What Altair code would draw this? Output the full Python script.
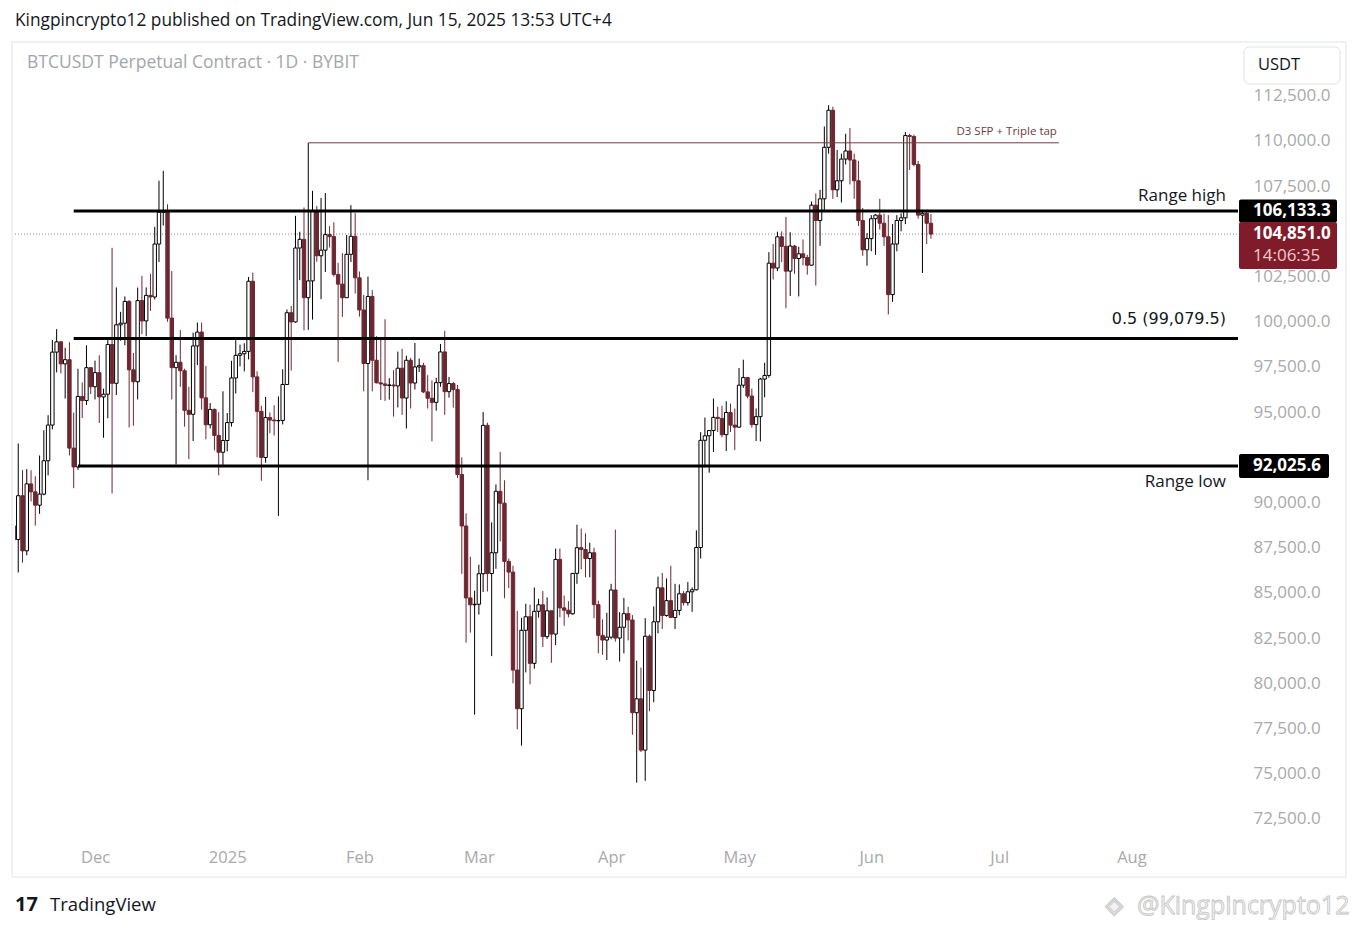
import altair as alt
import pandas as pd

# ---------------- data (BTCUSDT perpetual, daily) ----------------
START = "2024-11-12"

nov_open = [88700, 87950, 90375, 87325, 91030, 90590, 89850, 90465, 92310, 94285,
            98320, 98890, 97670, 97900, 93010, 91965, 95865, 95640, 97460]
nov_high = [89950, 93265, 91790, 91850, 91780, 91450, 92600, 94000, 94830, 98990,
            99590, 98900, 98560, 98870, 94970, 97400, 96650, 98700, 97460]
nov_low = [85200, 86130, 86670, 87075, 90055, 88720, 89375, 90400, 91500, 94045,
           97200, 97140, 95750, 92600, 90790, 91810, 94670, 95400, 96000]
nov_close = [87950, 90375, 87325, 91030, 90590, 89850, 90465, 92310, 94285, 98320,
             98890, 97670, 97900, 93010, 91965, 95865, 95640, 97460, 96405]

dec_open = [96405, 97185, 95840, 95990, 98740, 96595, 99830, 99920, 101125, 97340,
            96680, 101170, 100045, 101460, 101370, 104300, 106060, 106135, 100200, 97460,
            97760, 97290, 95100, 94880, 98660, 99430, 95790, 94300, 95150, 93710, 92780]
dec_high = [97850, 98150, 96300, 99000, 104090, 101900, 100550, 101400, 101200, 98270,
            101890, 102540, 101900, 102650, 105250, 107800, 108350, 106500, 102800, 98150,
            99540, 97400, 96400, 99400, 99960, 99960, 97550, 95500, 95200, 95000, 96150]
dec_low = [95700, 94400, 93580, 94660, 90500, 95950, 98950, 98700, 94150, 94250,
           95700, 99310, 99200, 100600, 101230, 103300, 105320, 100000, 95700, 92100,
           96400, 94200, 92400, 93400, 97600, 95140, 93500, 94100, 92880, 91500, 92000]
dec_close = [97185, 95840, 95990, 98740, 96595, 99830, 99920, 101125, 97340, 96680,
             101170, 100045, 101460, 101370, 104300, 106060, 106135, 100200, 97460, 97760,
             97290, 95100, 94880, 98660, 99430, 95790, 94300, 95150, 93710, 92780, 93430]

jan_open = [93430, 94420, 96890, 98140, 98230, 98360, 102240, 96950, 95040, 92490,
            94700, 94560, 94520, 94540, 96530, 100500, 99990, 104080, 104560, 101330,
            102260, 106140, 103650, 103960, 104820, 104710, 102620, 102080, 101330, 103730, 104730]
jan_high = [94950, 97840, 98980, 98730, 98810, 102480, 102720, 97260, 95350, 95840,
            94980, 95380, 95870, 97370, 100680, 100870, 105860, 104980, 106320, 109900,
            107240, 106400, 106850, 107120, 105290, 105500, 103260, 103800, 104800, 106450, 106010]
jan_low = [92830, 94200, 96030, 97530, 97250, 97920, 96100, 92500, 91200, 92200,
           93830, 93700, 89260, 94320, 96500, 97300, 99950, 102300, 99520, 99550,
           100120, 103320, 101250, 102750, 104110, 102500, 97780, 100270, 101330, 103300, 101560]
jan_close = [94420, 96890, 98140, 98230, 98360, 102240, 96950, 95040, 92490, 94700,
             94560, 94520, 94540, 96530, 100500, 99990, 104080, 104560, 101330, 102260,
             106140, 103650, 103960, 104820, 104710, 102620, 102080, 101330, 103730, 104730, 102430]

feb_open = [102430, 100650, 97690, 101400, 97870, 96620, 96560, 96480, 96500, 96450,
            97430, 95780, 97870, 96610, 97500, 97570, 96120, 95770, 95540, 96630,
            98330, 96130, 96580, 96250, 91550, 88700, 84720, 84340]
feb_high = [102780, 101480, 102500, 101750, 99200, 99100, 100140, 96880, 97320, 98350,
            98500, 98120, 98000, 98830, 97970, 97730, 97050, 96750, 96900, 98770,
            99500, 96950, 96670, 96500, 92500, 89400, 87000, 85120]
feb_low = [100280, 96150, 91230, 96150, 96590, 95670, 95620, 95690, 94750, 95260,
           94850, 94090, 95200, 96250, 97220, 96050, 95200, 93390, 95080, 96400,
           94850, 95800, 95250, 91350, 86050, 82250, 82800, 78260]
feb_close = [100650, 97690, 101400, 97870, 96620, 96560, 96480, 96500, 96450, 97430,
             95780, 97870, 96610, 97500, 97570, 96120, 95770, 95540, 96630, 98330,
             96130, 96580, 96250, 91550, 88700, 84720, 84340, 84370]

mar_open = [84370, 86060, 94270, 86070, 87220, 90620, 89960, 86740, 86150, 80730,
            78590, 82930, 83680, 81100, 83980, 84340, 82580, 84010, 82720, 86850,
            84170, 84040, 83840, 86080, 87500, 87400, 86900, 87220, 84350, 82650, 82390]
mar_high = [86560, 95000, 94420, 88900, 91000, 92800, 91230, 86900, 86500, 84000,
            83620, 84400, 84350, 85300, 84670, 85100, 84750, 84010, 87450, 87450,
            84850, 84540, 86100, 88770, 88560, 88290, 87780, 87500, 84570, 83540, 83900]
mar_low = [83800, 85050, 85080, 81500, 86330, 87850, 84700, 85260, 80000, 77450,
           76550, 80600, 79940, 80800, 83630, 82000, 82450, 81130, 82110, 83650,
           83180, 83650, 83800, 85500, 86300, 85860, 85860, 83600, 81650, 81570, 81280]
mar_close = [86060, 94270, 86070, 87220, 90620, 89960, 86740, 86150, 80730, 78590,
             82930, 83680, 81100, 83980, 84340, 82580, 84010, 82720, 86850, 84170,
             84040, 83840, 86080, 87500, 87400, 86900, 87220, 84350, 82650, 82390, 82550]

apr_open = [82550, 85160, 82500, 83100, 83850, 83500, 78370, 79140, 76300, 82600,
            79600, 83400, 85280, 83750, 84570, 83640, 84030, 84950, 84460, 85060,
            85170, 87510, 93440, 93690, 93980, 94710, 94650, 93750, 94980, 94280]
apr_high = [85500, 88500, 83930, 84720, 84230, 83770, 81250, 80870, 83600, 82700,
            84250, 85900, 86100, 85800, 86500, 85500, 85470, 85100, 85600, 85300,
            88460, 93890, 94700, 94000, 95750, 95300, 95350, 95600, 95470, 95200]
apr_low = [82430, 82300, 81200, 81650, 82370, 77150, 74500, 76200, 74600, 78450,
           78950, 82760, 83000, 83680, 83600, 83000, 83760, 84300, 84300, 83950,
           85140, 86900, 91950, 91650, 92800, 93900, 93600, 92850, 93900, 92900]
apr_close = [85160, 82500, 83100, 83850, 83500, 78370, 79140, 76300, 82600, 79600,
             83400, 85280, 83750, 84570, 83640, 84030, 84950, 84460, 85060, 85170,
             87510, 93440, 93690, 93980, 94710, 94650, 93750, 94980, 94280, 94170]

may_open = [94170, 96490, 96910, 95890, 94310, 94750, 96830, 97030, 103240, 102970,
            104700, 104170, 102800, 104190, 103500, 103760, 103550, 103130, 106450, 105600,
            106800, 109650, 111700, 107300, 107800, 109000, 109450, 108950, 107800, 105600, 103980]
may_high = [97440, 97900, 96950, 96300, 95200, 96900, 97730, 103850, 104300, 104980,
            105000, 105800, 104950, 104250, 104150, 104550, 103700, 106650, 107100, 107300,
            110800, 111980, 111900, 109500, 109300, 110400, 110720, 109300, 108900, 106300, 104900]
may_low = [94130, 96340, 95760, 94140, 93400, 93380, 95820, 96900, 102340, 102800,
           103300, 100750, 101430, 102650, 101400, 103120, 102600, 103110, 102000, 104200,
           106100, 109300, 106800, 106900, 106600, 108700, 107600, 106800, 105300, 103650, 103100]
may_close = [96490, 96910, 95890, 94310, 94750, 96830, 97030, 103240, 102970, 104700,
             104170, 102800, 104190, 103500, 103760, 103550, 103130, 106450, 105600, 106800,
             109650, 111700, 107300, 107800, 109000, 109450, 108950, 107800, 105600, 103980, 104600]

jun_open = [104600, 105700, 105900, 105450, 104700, 101500, 104300, 105600, 105750, 110300,
            110250, 108700, 105900, 106000, 105450]
jun_high = [105900, 105950, 106800, 105980, 105900, 105400, 105900, 106000, 110500, 110400,
            110350, 108900, 106200, 106200, 105950]
jun_low = [103900, 103700, 105100, 104200, 100400, 101100, 103900, 105000, 105400, 108400,
           108600, 105700, 102700, 104300, 104600]
jun_close = [105700, 105900, 105450, 104700, 101500, 104300, 105600, 105750, 110300, 110250,
             108700, 105900, 106000, 105450, 104850]

# horizontal levels
level_names = ["Range high", "0.5 (99,079.5)", "Range low"]
level_values = [106133.3, 99079.5, 92025.6]
level_tags = ["106,133.3", "99,079.5", "92,025.6"]
level_starts = ["2024-11-26", "2024-11-26", "2024-11-27"]
sfp_value = 109900
sfp_start = "2025-01-20"
sfp_end = "2025-07-15"
sfp_text = "D3 SFP + Triple tap"
last_price = 104851.0
last_price_text = "104,851.0"
countdown_text = "14:06:35"

# price-scale labels (105,000 and 92,500 sit under the price tags)
y_ticks = [72500, 75000, 77500, 80000, 82500, 85000, 87500, 90000, 95000,
           97500, 100000, 102500, 107500, 110000, 112500]
month_ticks = [(2024, 12), (2025, 1), (2025, 2), (2025, 3), (2025, 4),
               (2025, 5), (2025, 6), (2025, 7), (2025, 8)]

header_text = "Kingpincrypto12 published on TradingView.com, Jun 15, 2025 13:53 UTC+4"
symbol_text = "BTCUSDT Perpetual Contract · 1D · BYBIT"

# ---------------- assemble ----------------
opens = nov_open + dec_open + jan_open + feb_open + mar_open + apr_open + may_open + jun_open
highs = nov_high + dec_high + jan_high + feb_high + mar_high + apr_high + may_high + jun_high
lows = nov_low + dec_low + jan_low + feb_low + mar_low + apr_low + may_low + jun_low
closes = nov_close + dec_close + jan_close + feb_close + mar_close + apr_close + may_close + jun_close
dates = pd.date_range(START, periods=len(closes), freq="D").strftime("%Y-%m-%d")
df = pd.DataFrame({"date": list(dates), "open": opens, "high": highs, "low": lows, "close": closes})

W, H = 1223, 798
FONT = "Open Sans"
NUMFONT = "DejaVu Sans"
RED = "#6e2630"
TAG_RED = "#801c2a"
AXIS_GRAY = "#a9a9a9"

x_scale = alt.Scale(type="utc", padding=0, domain=[
    alt.DateTime(year=2024, month=11, date=12, hours=5, minutes=45, utc=True),
    alt.DateTime(year=2025, month=8, date=25, hours=23, minutes=45, utc=True)])
y_scale = alt.Scale(domain=[71328, 115477], nice=False, zero=False, padding=0)

x_axis = alt.Axis(
    values=[alt.DateTime(year=yy, month=mm, date=1, utc=True) for yy, mm in month_ticks],
    labelExpr="utcFormat(datum.value, '%m') == '01' ? utcFormat(datum.value, '%Y') : utcFormat(datum.value, '%b')",
    domain=False, ticks=False, grid=False, labelColor=AXIS_GRAY, labelFontSize=16.5,
    labelFont=FONT, labelPadding=9, title=None)
y_axis = alt.Axis(
    orient="right", values=y_ticks, format=",.1f", domain=False, ticks=False, grid=False,
    labelColor=AXIS_GRAY, labelFontSize=17, labelFont=FONT, labelPadding=15,
    labelAlign="left", title=None)


def X(field):
    return alt.X(field, scale=x_scale, axis=x_axis, title=None)


def Y(field):
    return alt.Y(field, scale=y_scale, axis=y_axis, title=None)


up = "datum.close >= datum.open"
base = alt.Chart(df)

wicks = base.mark_rule(strokeWidth=1, clip=True).encode(
    x=X("date:T"), y=Y("low:Q"), y2="high:Q",
    color=alt.condition(up, alt.value("#000000"), alt.value(RED)),
)
bodies = base.mark_bar(width=3.4, strokeWidth=1, clip=True).encode(
    x=X("date:T"), y=Y("open:Q"), y2="close:Q",
    fill=alt.condition(up, alt.value("#ffffff"), alt.value(RED)),
    stroke=alt.condition(up, alt.value("#000000"), alt.value(RED)),
)

levels_df = pd.DataFrame({"name": level_names, "value": level_values, "start": level_starts})
level_rules = alt.Chart(levels_df).mark_rule(strokeWidth=3, color="#000000", clip=False).encode(
    x=X("start:T"), x2=alt.value(W), y=Y("value:Q"))

sfp_df = pd.DataFrame({"v": [sfp_value], "s": [sfp_start], "e": [sfp_end], "t": [sfp_text]})
sfp_rule = alt.Chart(sfp_df).mark_rule(strokeWidth=1, color="#7a3a42").encode(
    x=X("s:T"), x2="e:T", y=Y("v:Q"))
sfp_label = alt.Chart(sfp_df).mark_text(
    align="right", baseline="middle", dx=-2, dy=-11, fontSize=11.5, font=FONT, color="#6b3c42"
).encode(x=X("e:T"), y=Y("v:Q"), text="t:N")

last_df = pd.DataFrame({"v": [last_price]})
last_rule = alt.Chart(last_df).mark_rule(strokeWidth=1, color="#8a8a8a", strokeDash=[1, 2]).encode(
    x=alt.value(0), x2=alt.value(W), y=Y("v:Q"))


def label(text, value, dy, x, align, size, color, weight="normal", font=FONT):
    d = pd.DataFrame({"t": [text], "v": [value]})
    return alt.Chart(d).mark_text(
        align=align, baseline="middle", dy=dy, fontSize=size, font=font, color=color,
        fontWeight=weight, clip=False
    ).encode(x=alt.value(x), y=Y("v:Q"), text="t:N")


def tag(value, width, thick, xc, color, yoff=0):
    d = pd.DataFrame({"v": [value]})
    return alt.Chart(d).mark_tick(
        orient="horizontal", size=width, thickness=thick, color=color, opacity=1,
        yOffset=yoff, clip=False, cornerRadius=2
    ).encode(x=alt.value(xc), y=Y("v:Q"))


def free_text(text, x, y, size, color, weight="normal", align="left", stroke=None):
    d = pd.DataFrame({"t": [text]})
    kw = dict(align=align, baseline="middle", fontSize=size, font=FONT, color=color,
              fontWeight=weight, clip=False)
    if stroke:
        kw.update(stroke=stroke, strokeWidth=0.8)
    return alt.Chart(d).mark_text(**kw).encode(x=alt.value(x), y=alt.value(y), text="t:N")


level_labels = [
    label(level_names[0], level_values[0], -15, W - 12, "right", 17, "#131722"),
    label(level_names[1], level_values[1], -19, W - 12, "right", 16, "#131722", font=NUMFONT),
    label(level_names[2], level_values[2], 16, W - 12, "right", 17, "#131722"),
]

tags = [
    tag(level_values[0], 98, 23, W + 50, "#000000"),
    tag(last_price, 98, 47, W + 50, TAG_RED, yoff=11.5),
    tag(level_values[2], 90, 24, W + 46, "#000000"),
    label(level_tags[0], level_values[0], 0, W + 15, "left", 17, "#ffffff", "bold"),
    label(last_price_text, last_price, 0, W + 15, "left", 17, "#ffffff", "bold"),
    label(countdown_text, last_price, 22, W + 15, "left", 17, "#f3c9ce"),
    label(level_tags[2], level_values[2], 0, W + 15, "left", 17, "#ffffff", "bold"),
]

panel = alt.Chart(pd.DataFrame({"k": [0]})).mark_rect(
    fill=None, stroke="#e0e3eb", strokeWidth=1, clip=False
).encode(x=alt.value(-3), x2=alt.value(W + 108), y=alt.value(0), y2=alt.value(835))
usdt_box = alt.Chart(pd.DataFrame({"k": [0]})).mark_rect(
    fill="#ffffff", stroke="#e0e3eb", strokeWidth=1, cornerRadius=5, clip=False
).encode(x=alt.value(W + 6), x2=alt.value(W + 102), y=alt.value(5), y2=alt.value(42))

texts = [
    free_text(header_text, 0, -21, 17.3, "#131722"),
    free_text(symbol_text, 12, 21, 17.5, "#a3a6ad"),
    free_text("USDT", W + 20, 23, 16.5, "#131722"),
    free_text("17", 0, 863, 20, "#131722", weight="bold"),
    free_text("TradingView", 35, 863, 18.5, "#131722"),
    free_text("◈", 1090, 864, 24, "#f2f2f2", stroke="#c4c4c4"),
    free_text("@Kingpincrypto12", 1122, 864, 25, "#f4f4f4", stroke="#c4c4c4"),
]

chart = alt.layer(
    panel, last_rule, wicks, bodies, level_rules, sfp_rule, sfp_label,
    *level_labels, usdt_box, *tags, *texts
).properties(
    width=W, height=H,
    autosize=alt.AutoSizeParams(type="none"),
    padding={"left": 7, "top": 34, "right": 115, "bottom": 80},
    background="#ffffff",
).configure_view(stroke=None)

chart.save("out.html", embed_options={"renderer": "svg", "actions": False})
